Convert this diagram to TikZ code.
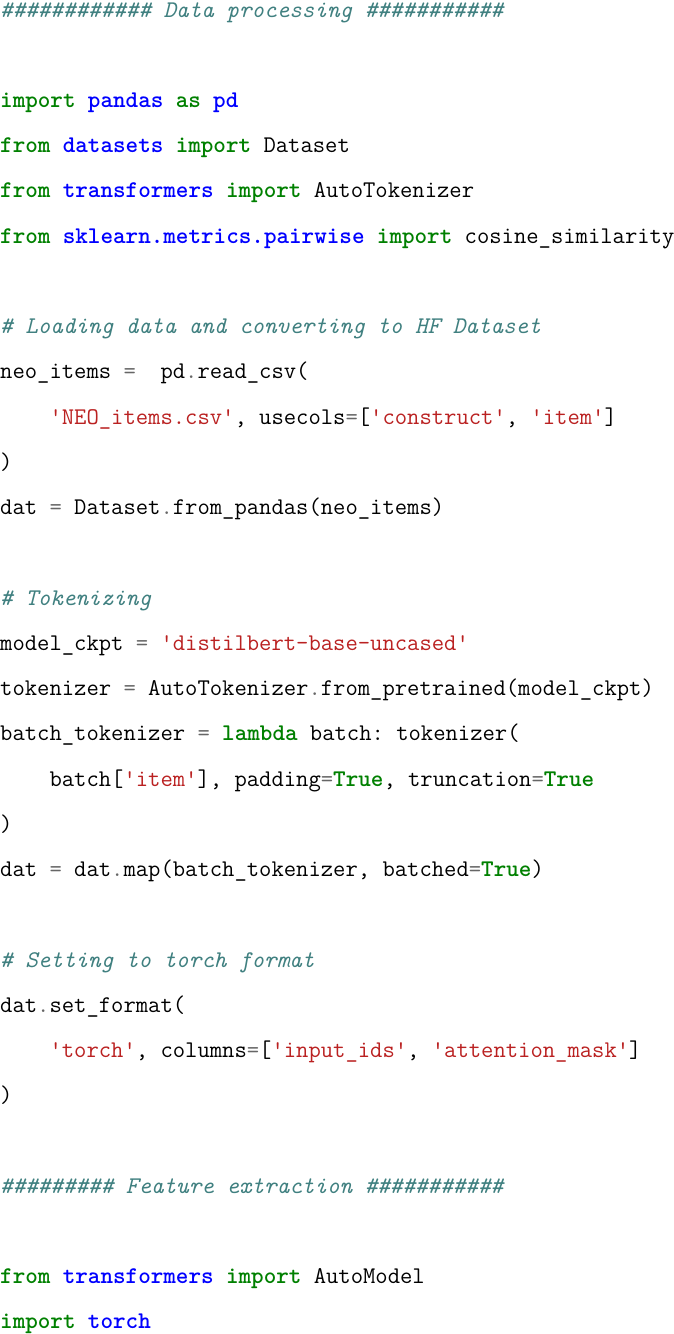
\documentclass[tikz,border=0pt]{standalone}
\definecolor{kwc}{RGB}{0,128,0}
\definecolor{nsc}{RGB}{0,0,255}
\definecolor{stc}{RGB}{186,33,33}
\definecolor{cmc}{RGB}{64,128,128}
\definecolor{opc}{RGB}{102,102,102}
\newcommand{\kw}[1]{\textcolor{kwc}{\bfseries #1}}
\newcommand{\ns}[1]{\textcolor{nsc}{\bfseries #1}}
\newcommand{\st}[1]{\textcolor{stc}{\textquotesingle#1\textquotesingle}}
\newcommand{\cm}[1]{\textcolor{cmc}{\itshape #1}}
\newcommand{\op}[1]{\textcolor{opc}{#1}}
\tikzset{codeline/.style={anchor=base west,inner sep=0pt,font=\ttfamily\fontsize{23.95}{28}\selectfont}}
\begin{document}
\begin{tikzpicture}[x=1pt,y=1pt]
\useasboundingbox (0,0) rectangle (674,-1334);
\def\L#1#2#3{\node[codeline] (#1) at (0,{-17-45.24*(#2-1)}) {#3};}
\L{l1}{1}{\cm{\#\#\#\#\#\#\#\#\#\#\#\#~Data~processing~\#\#\#\#\#\#\#\#\#\#\#}}
\L{l3}{3}{\kw{import}~\ns{pandas}~\kw{as}~\ns{pd}}
\L{l4}{4}{\kw{from}~\ns{datasets}~\kw{import}~Dataset}
\L{l5}{5}{\kw{from}~\ns{transformers}~\kw{import}~AutoTokenizer}
\L{l6}{6}{\kw{from}~\ns{sklearn.metrics.pairwise}~\kw{import}~cosine\_similarity}
\L{l8}{8}{\cm{\#~Loading~data~and~converting~to~HF~Dataset}}
\L{l9}{9}{neo\_items~\op{=}~~pd\op{.}read\_csv(}
\L{l10}{10}{~~~~\st{NEO\_items.csv},~usecols\op{=}[\st{construct},~\st{item}]}
\L{l11}{11}{)}
\L{l12}{12}{dat~\op{=}~Dataset\op{.}from\_pandas(neo\_items)}
\L{l14}{14}{\cm{\#~Tokenizing}}
\L{l15}{15}{model\_ckpt~\op{=}~\st{distilbert-base-uncased}}
\L{l16}{16}{tokenizer~\op{=}~AutoTokenizer\op{.}from\_pretrained(model\_ckpt)}
\L{l17}{17}{batch\_tokenizer~\op{=}~\kw{lambda}~batch:~tokenizer(}
\L{l18}{18}{~~~~batch[\st{item}],~padding\op{=}\kw{True},~truncation\op{=}\kw{True}}
\L{l19}{19}{)}
\L{l20}{20}{dat~\op{=}~dat\op{.}map(batch\_tokenizer,~batched\op{=}\kw{True})}
\L{l22}{22}{\cm{\#~Setting~to~torch~format}}
\L{l23}{23}{dat\op{.}set\_format(}
\L{l24}{24}{~~~~\st{torch},~columns\op{=}[\st{input\_ids},~\st{attention\_mask}]}
\L{l25}{25}{)}
\L{l27}{27}{\cm{\#\#\#\#\#\#\#\#\#~Feature~extraction~\#\#\#\#\#\#\#\#\#\#\#}}
\L{l29}{29}{\kw{from}~\ns{transformers}~\kw{import}~AutoModel}
\L{l30}{30}{\kw{import}~\ns{torch}}
\end{tikzpicture}
\end{document}
